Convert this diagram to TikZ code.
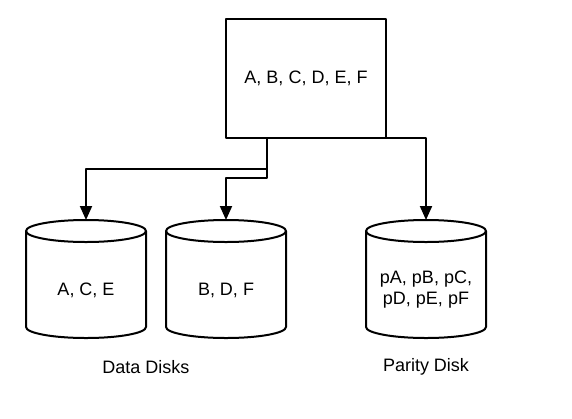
\documentclass[tikz,border=0pt]{standalone}
\usepackage{fontspec}
\setmainfont{Liberation Sans}
\usetikzlibrary{arrows.meta}
\begin{document}
\begin{tikzpicture}[x=1pt,y=-1pt,line join=round,line width=2pt,>={Triangle[length=14pt,width=12pt]},font=\fontsize{18}{21}\selectfont,
	blockbox/.style={draw,minimum width=160pt,minimum height=119pt,inner sep=0pt},
	disklabel/.style={align=center,inner sep=0pt}]
	\useasboundingbox (0,0) rectangle (572,418);
	\def\ry{11} \def\rx{60}
	\node[blockbox] (all) at (306,78.5) {A, B, C, D, E, F};
	% the three disks
	\foreach \cx/\nm/\txt in {86/dA/{A, C, E},226/dB/{B, D, F},426/dP/{pA, pB, pC,\\pD, pE, pF}}{
		\draw (\cx-\rx,231) -- (\cx-\rx,327) arc[start angle=180,end angle=0,x radius=\rx,y radius=\ry] -- (\cx+\rx,231);
		\draw (\cx,231) ellipse[x radius=\rx,y radius=\ry];
		\coordinate (\nm top) at (\cx,220);
		\node[disklabel] (\nm) at (\cx,290) {\txt};
	}
	\coordinate (split) at (267,138);
	\coordinate (pstart) at (332,138);
	\draw[->] (split) |- (86,169) -- (dAtop);
	\draw[->] (split) |- (226,178) -- (dBtop);
	\draw[->] (pstart) -| (dPtop);
	\node (datalbl) at (146,367) {Data Disks};
	\node (paritylbl) at (426,367) {Parity Disk};
\end{tikzpicture}
\end{document}
